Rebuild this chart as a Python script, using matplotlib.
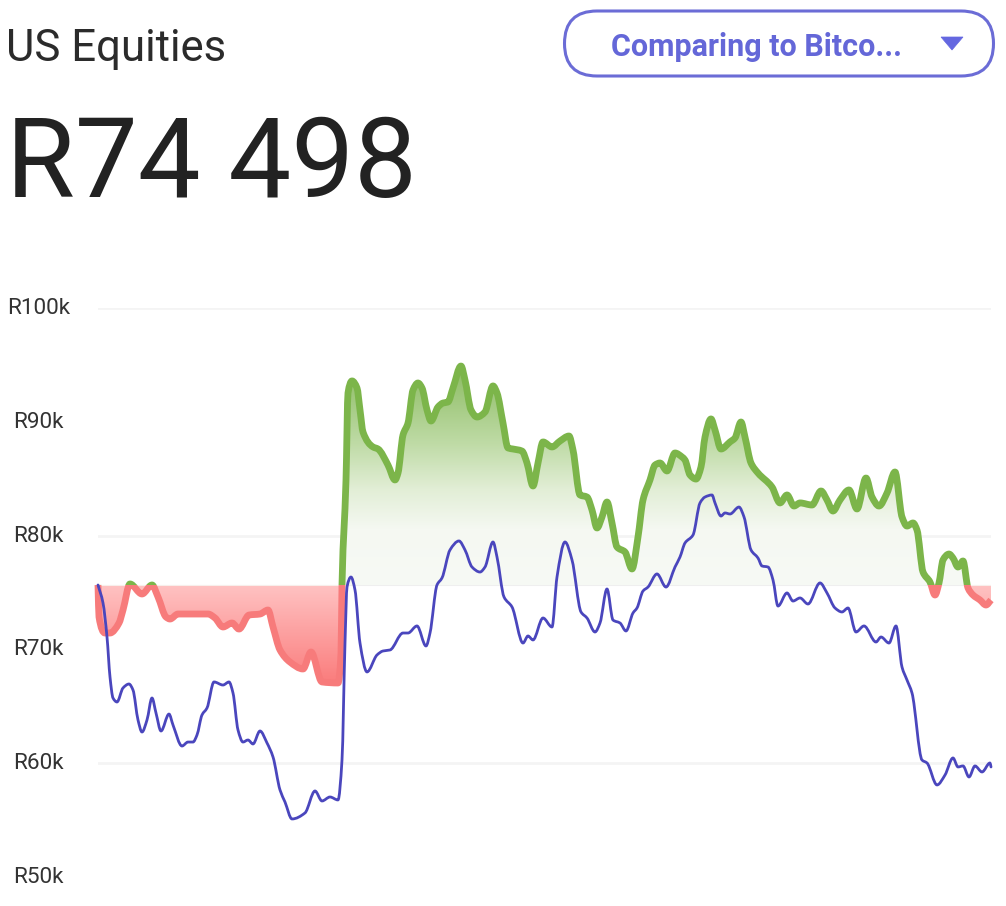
import numpy as np
import matplotlib
matplotlib.use("Agg")
import matplotlib.pyplot as plt
from matplotlib.path import Path
from matplotlib.patches import PathPatch, Rectangle, FancyBboxPatch, Polygon
from matplotlib.colors import LinearSegmentedColormap
from matplotlib.transforms import ScaledTranslation

plt.rcParams['font.family'] = ['Roboto', 'DejaVu Sans']

title = "US Equities"
headline = "R74 498"
button_label = "Comparing to Bitco..."
tick_values = [100, 90, 80, 70, 60, 50]
tick_labels = ["R100k", "R90k", "R80k", "R70k", "R60k", "R50k"]
grid_values = [100, 80, 60]
baseline = 75.66

equity_t = [0, 1, 7, 12, 21, 25, 32, 44, 54, 60, 68, 72, 80, 110, 117, 125, 134, 141, 151, 162, 170, 175, 182, 192, 205, 213, 224, 240,
            243, 244, 248, 250, 254, 259, 262, 265, 275, 280, 290, 297, 300, 305, 310, 315, 320, 324, 329, 333, 340, 345, 350, 355, 363, 367,
            373, 379, 387, 395, 399, 405, 410, 415, 424, 429, 435, 440, 445, 454, 462, 471, 475, 482, 489, 494, 499, 504, 509, 514, 519, 527, 534,
            540, 545, 552, 557, 562, 569, 577, 584, 587, 592, 598, 603, 607, 613, 617, 623, 632, 637, 643, 647, 653, 660, 674, 682, 689, 696, 702,
            714, 723, 729, 735, 742, 751, 759, 768, 774, 781, 789, 797, 804, 809, 815, 819, 825, 832, 837, 841, 845, 851, 855, 860, 865, 870, 875, 882, 888, 893]
equity_k = [75.66, 72.85, 71.44, 71.44, 72.32, 73.46, 75.75, 74.87, 75.66, 74.61, 72.85, 72.67, 73.11, 73.11, 72.76, 71.97, 72.32, 71.79, 73.02, 73.11, 73.46, 71.97, 69.95, 68.89, 68.28, 69.77, 67.14, 67.05,
            69.68, 75.66, 84.89, 92.53, 93.59, 92.97, 91.04, 89.10, 87.79, 87.61, 86.20, 84.89, 85.50, 88.84, 89.89, 92.79, 93.41, 92.97, 91.04, 90.07, 91.30, 91.65, 91.74, 92.97, 94.90, 93.67,
            91.04, 90.42, 90.86, 93.15, 92.53, 89.89, 87.70, 87.61, 87.43, 86.38, 84.36, 86.38, 88.23, 87.79, 88.31, 88.75, 87.52, 83.57, 83.39, 82.25, 80.67, 81.64, 82.95, 81.11, 79.00, 78.56, 77.07,
            79.88, 83.13, 84.89, 86.20, 86.38, 85.68, 87.26, 86.91, 86.64, 85.33, 84.97, 86.03, 88.66, 90.25, 89.28, 87.61, 88.23, 88.58, 89.98, 88.66, 86.38, 85.50, 84.27, 82.87, 83.57, 82.60, 82.87,
            82.69, 83.92, 83.13, 82.16, 83.13, 84.01, 82.34, 85.06, 83.39, 82.60, 83.74, 85.59, 81.64, 80.84, 81.11, 80.49, 76.80, 75.92, 74.78, 75.84, 77.86, 78.38, 78.03, 77.24, 77.77, 75.40, 74.78, 74.34, 73.90, 74.34]

bitcoin_t = [0, 5, 9, 12, 15, 19, 25, 31, 35, 40, 44, 49, 54, 58, 63, 71, 75, 84, 90, 95, 99, 104, 109, 116, 125, 131, 135, 140, 145, 150, 155, 162, 169, 175, 182, 187, 194, 207, 217, 224, 232, 240,
             244, 247, 249, 253, 257, 262, 269, 279, 285, 292, 305, 310, 319, 328, 332, 339, 344, 352, 361, 367, 374, 382, 387, 395, 399, 406, 414, 425, 430, 435, 445, 454, 459, 467, 474, 483, 489, 497,
             502, 509, 515, 522, 528, 535, 539, 545, 550, 559, 568, 577, 582, 587, 595, 602, 607, 614, 617, 623, 627, 632, 641, 646, 653, 660, 664, 670, 675, 680, 689, 695, 702, 710, 722, 729, 737, 744, 750, 758,
             766, 778, 783, 791, 798, 804, 809, 814, 824, 829, 839, 847, 855, 860, 865, 871, 877, 884, 892, 893]
bitcoin_k = [75.66, 74.08, 71.09, 67.58, 65.73, 65.38, 66.61, 66.96, 66.43, 63.80, 62.74, 63.80, 65.73, 64.41, 62.83, 64.32, 63.36, 61.51, 61.86, 61.86, 62.48, 64.24, 64.85, 67.14, 66.87, 67.14, 66.17, 62.92, 61.86, 62.04, 61.69, 62.83, 61.78, 60.55, 57.65, 56.59, 55.10, 55.63, 57.56, 56.68, 57.03, 56.77,
             60.28, 70.56, 75.48, 76.36, 75.22, 70.56, 68.02, 69.51, 69.86, 69.95, 71.44, 71.44, 72.06, 70.30, 71.44, 75.66, 76.28, 78.74, 79.53, 78.74, 77.24, 76.80, 77.24, 79.44, 78.12, 74.61, 73.73, 70.56, 71.18, 70.83, 72.76, 71.97,
             76.36, 79.44, 77.86, 73.29, 72.76, 71.53, 72.32, 75.31, 72.58, 72.32, 71.62, 73.20, 73.64, 75.13, 75.48, 76.63, 75.48, 77.24, 78.12, 79.35, 80.05, 82.87, 83.39, 83.57, 82.87, 81.72, 81.99, 81.90, 82.51, 81.64, 78.74, 78.03, 77.33, 77.24, 76.10, 73.81, 74.96, 74.25, 74.52, 73.99, 75.84, 74.96, 73.64, 73.29, 73.64, 71.53,
             72.06, 70.65, 71.09, 70.56, 72.06, 68.45, 67.31, 66.17, 60.28, 60.02, 58.09, 58.96, 60.46, 59.67, 59.76, 58.79, 59.76, 59.23, 60.02, 59.67]


def smooth_path(t, v):
    """Monotone cubic Bezier path through the data points."""
    t, v = np.asarray(t, float), np.asarray(v, float)
    h = np.diff(t)
    s = np.diff(v) / h
    m = np.zeros_like(v)
    m[0], m[-1] = s[0], s[-1]
    for i in range(1, len(v) - 1):
        if s[i - 1] * s[i] > 0:
            w1, w2 = 2 * h[i] + h[i - 1], h[i] + 2 * h[i - 1]
            m[i] = (w1 + w2) / (w1 / s[i - 1] + w2 / s[i])
    verts, codes = [(t[0], v[0])], [Path.MOVETO]
    for i in range(len(h)):
        verts += [(t[i] + h[i] / 3, v[i] + m[i] * h[i] / 3),
                  (t[i + 1] - h[i] / 3, v[i + 1] - m[i + 1] * h[i] / 3),
                  (t[i + 1], v[i + 1])]
        codes += [Path.CURVE4] * 3
    return Path(verts, codes)


fig = plt.figure(figsize=(10.06, 9.06), dpi=100, facecolor="white")
L, R, T, B = 98, 991, 308, 877
ax = fig.add_axes([L / 1006, 1 - B / 906, (R - L) / 1006, (B - T) / 906])
ax.set_xlim(0, 893)
ax.set_ylim(50, 100)
for s in ax.spines.values():
    s.set_visible(False)
ax.set_xticks([])
ax.set_yticks(tick_values)
ax.set_yticklabels(tick_labels, ha="center", fontsize=16.2, color="#333333")
ax.tick_params(axis="y", length=0, pad=43)
lift = ScaledTranslation(0, 2 / 100, fig.dpi_scale_trans)
for lab in ax.get_yticklabels():
    lab.set_transform(lab.get_transform() + lift)

for g in grid_values:
    ax.axhline(g, color="#f4f4f4", lw=2, zorder=1)

# Gradient fill between the line and the starting value
equity_path = smooth_path(equity_t, equity_k)
area = Path(
    np.vstack([[(equity_t[0], baseline)], equity_path.vertices, [(equity_t[-1], baseline), (equity_t[0], baseline)]]),
    [Path.MOVETO, Path.LINETO] + list(equity_path.codes[1:]) + [Path.LINETO, Path.LINETO],
)
y_lo, y_hi = 66.5, 95.5
f = lambda val: (val - y_lo) / (y_hi - y_lo)
split = baseline - 0.09
cmap = LinearSegmentedColormap.from_list("fill", [
    (0.0, "#fa7878"),
    (f(split) - 0.0005, "#ffc2c2"),
    (f(split), "#f7faf5"),
    (f(80.5), "#f5f8f2"),
    (f(84), "#e2eed6"),
    (f(88), "#bfdba6"),
    (1.0, "#86b85a"),
], N=2048)
img = ax.imshow(np.linspace(1, 0, 2048)[:, None], extent=[0, 893, y_lo, y_hi], aspect="auto", cmap=cmap, vmin=0, vmax=1,
                zorder=2, interpolation="nearest")
img.set_clip_path(PathPatch(area, transform=ax.transData))
ax.set_xlim(0, 893)
ax.set_ylim(50, 100)
ax.axhline(baseline, color="#efefef", lw=0.8, zorder=1)

# Line coloured by position against the starting value
above = Rectangle((-10, baseline), 920, 60, transform=ax.transData)
below = Rectangle((-10, 30), 920, baseline - 30, transform=ax.transData)
for col, clip in (("#7cb54a", above), ("#f77b7b", below)):
    p = PathPatch(equity_path, fill=False, ec=col, lw=4.9, capstyle="butt", joinstyle="round", zorder=3)
    ax.add_patch(p)
    p.set_clip_path(clip)

bp = PathPatch(smooth_path(bitcoin_t, bitcoin_k), fill=False, ec="#4a46bd", lw=2.0, capstyle="round", joinstyle="round", zorder=4)
ax.add_patch(bp)
bp.set_clip_on(False)

# Header, in pixel coordinates
ui = fig.add_axes([0, 0, 1, 1], zorder=5)
ui.set_xlim(0, 1006)
ui.set_ylim(906, 0)
ui.axis("off")
ui.patch.set_alpha(0)
ui.text(6, 49, title, fontsize=31.5, color="#2b2b2b", va="center", ha="left")
ui.text(6, 197, headline, fontsize=80.5, color="#222222", va="baseline", ha="left")
ui.add_patch(FancyBboxPatch((564.5, 11), 429, 65, boxstyle="round,pad=0,rounding_size=32.5", fc="white", ec="#6b6cd6", lw=2.2))
ui.text(757, 47, button_label, fontsize=22, fontweight="bold", color="#6467d8", va="center", ha="center")
ui.add_patch(Polygon([(941, 37), (963, 37), (952, 50)], closed=True, fc="#6467e0", ec="#6467e0", lw=0.5))

fig.savefig("out.png", dpi=100, facecolor="white")
